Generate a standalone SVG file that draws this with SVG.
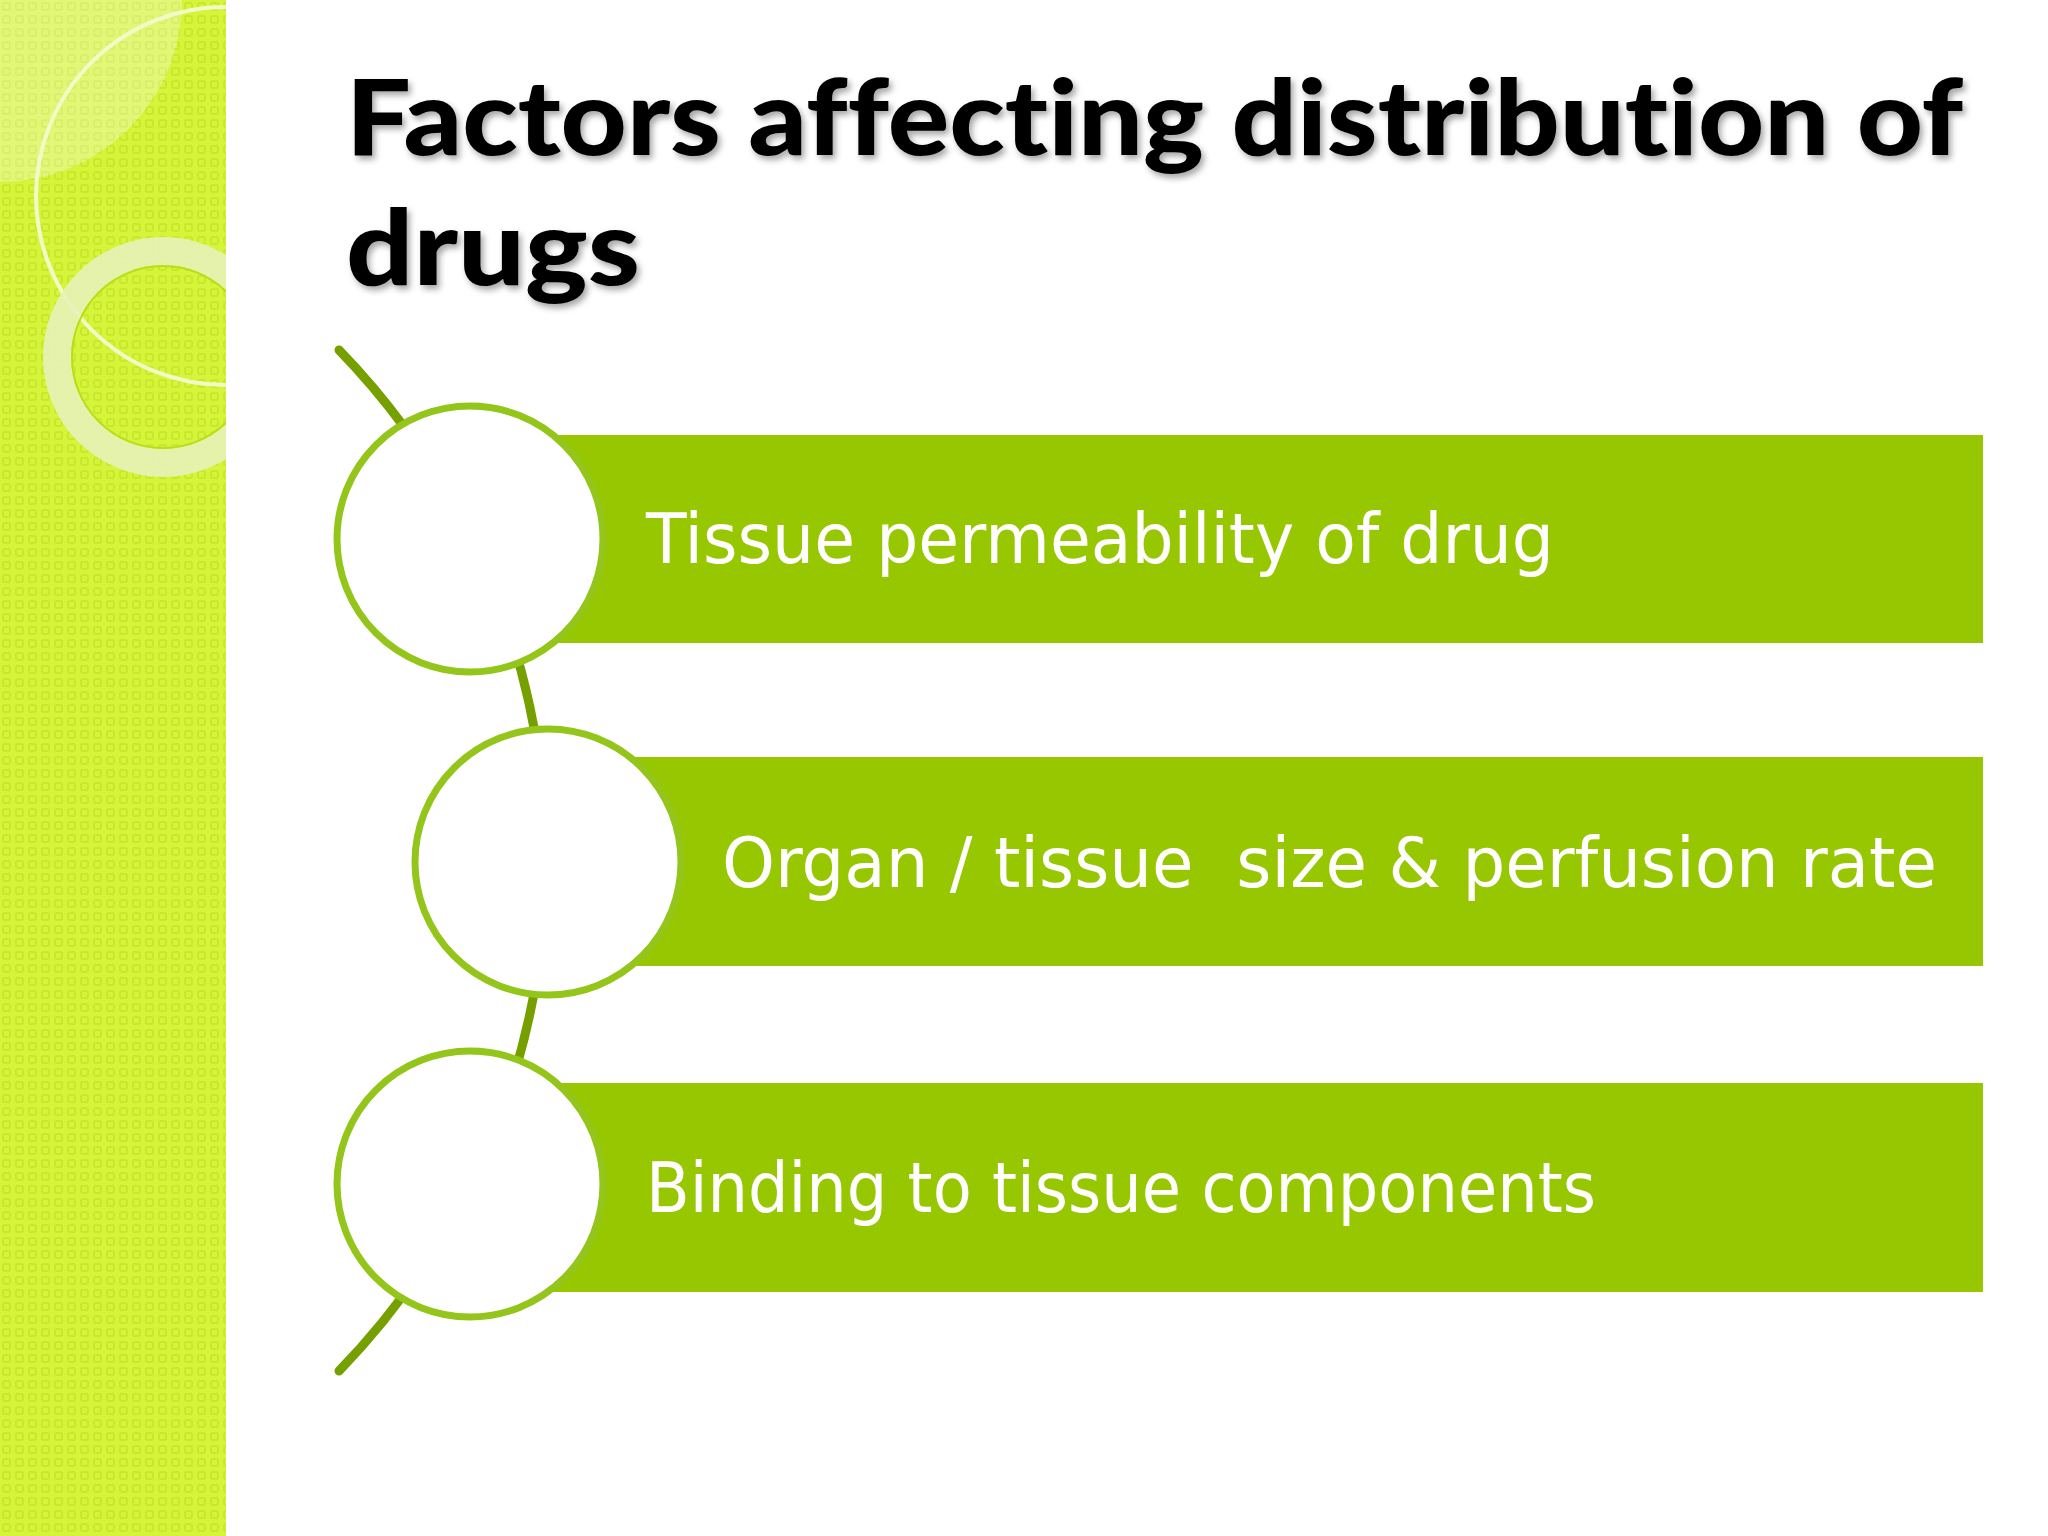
<svg xmlns="http://www.w3.org/2000/svg" width="2048" height="1536" viewBox="0 0 2048 1536">
  <defs>
    <pattern id="dots" width="13" height="13" patternUnits="userSpaceOnUse">
      <rect width="13" height="13" fill="#D6F43A"/>
      <rect x="3" y="3" width="7" height="7" rx="2" fill="none" stroke="#C8E82C" stroke-width="2"/>
    </pattern>
    <clipPath id="panelClip">
      <rect x="0" y="0" width="226" height="1536"/>
    </clipPath>
    <filter id="shadow" x="-5%" y="-20%" width="110%" height="150%">
      <feDropShadow dx="3" dy="4" stdDeviation="3" flood-color="#000" flood-opacity="0.35"/>
    </filter>
    <style>
      .title { font-family: "Lato", "Liberation Sans", sans-serif; font-weight: 900; font-size: 104px; fill: #000; font-variant-ligatures: none; font-feature-settings: "liga" 0, "clig" 0; }
      .bar { fill: #97C700; }
      .node-circle { fill: #FFFFFF; stroke: #94C51A; stroke-width: 7; }
      .label { font-family: "DejaVu Sans", "Liberation Sans", sans-serif; font-size: 70px; fill: #FFFFFF; }
      .arc { fill: none; stroke: #76A000; stroke-width: 9; stroke-linecap: round; }
    </style>
  </defs>

  <rect x="0" y="0" width="2048" height="1536" fill="#FFFFFF"/>

  <g id="side-panel">
    <rect x="0" y="0" width="226" height="1536" fill="url(#dots)"/>
    <g clip-path="url(#panelClip)">
      <circle cx="0" cy="0" r="182" fill="#FFFFFF" fill-opacity="0.3"/>
      <circle cx="225" cy="196" r="189" fill="none" stroke="#F2FBC8" stroke-width="4"/>
      <circle cx="163" cy="357" r="106" fill="none" stroke="#E6F2B8" stroke-opacity="0.9" stroke-width="28"/>
      <circle cx="163" cy="357" r="91" fill="none" stroke="#B8DE1A" stroke-width="2"/>
    </g>
  </g>

  <g id="title" filter="url(#shadow)">
    <text class="title" x="346" y="155" textLength="1617" lengthAdjust="spacingAndGlyphs">Factors affecting distribution of</text>
    <text class="title" x="346" y="285" textLength="294" lengthAdjust="spacingAndGlyphs">drugs</text>
  </g>

  <g id="connectors">
    <path class="arc" d="M 339 350 A 733 733 0 0 1 339 1371"/>
  </g>

  <g id="node-1">
    <rect class="bar" x="470" y="435" width="1513" height="208"/>
    <circle class="node-circle" cx="470" cy="539" r="133"/>
    <text class="label" x="646" y="563" textLength="908" lengthAdjust="spacingAndGlyphs">Tissue permeability of drug</text>
  </g>

  <g id="node-2">
    <rect class="bar" x="547" y="757" width="1436" height="209"/>
    <circle class="node-circle" cx="548" cy="862" r="133"/>
    <text class="label" x="722" y="887" textLength="1215" lengthAdjust="spacingAndGlyphs" xml:space="preserve">Organ / tissue  size &amp; perfusion rate</text>
  </g>

  <g id="node-3">
    <rect class="bar" x="470" y="1083" width="1513" height="209"/>
    <circle class="node-circle" cx="470" cy="1184" r="133"/>
    <text class="label" x="646" y="1212" textLength="950" lengthAdjust="spacingAndGlyphs">Binding to tissue components</text>
  </g>
</svg>
